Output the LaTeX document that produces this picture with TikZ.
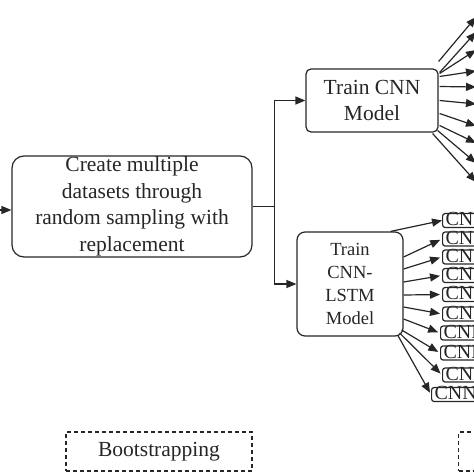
\documentclass[tikz,border=0pt]{standalone}
\usepackage{fontspec}
\setmainfont{Liberation Serif}
\usetikzlibrary{arrows.meta,calc}
\begin{document}
\begin{tikzpicture}[x=1pt,y=-1pt,
  line width=1.2pt, color=black!85,
  arr/.style={-{Triangle[length=10pt,width=8pt]}},
  box/.style={draw, rounded corners=#1, align=center, inner sep=0pt},
  tbox/.style={draw, rounded corners=2.5pt, anchor=west, inner xsep=3pt, inner ysep=0pt,
     minimum height=14pt, text height=10pt, text depth=0pt, font=\fontsize{20}{20}\selectfont},
  dbox/.style={draw, dash pattern=on 4pt off 3pt, line width=1.1pt, inner sep=0pt, font=\fontsize{21.5}{24}\selectfont}
]
\useasboundingbox (0,0) rectangle (474,474);

% main boxes
\node[box=12pt, minimum width=240pt, minimum height=101pt, font=\fontsize{21.5}{26.5}\selectfont]
  (create) at (132,206.5) {Create multiple\\datasets through\\random sampling with\\replacement};
\node[box=5pt, minimum width=132pt, minimum height=63pt, font=\fontsize{21.5}{26}\selectfont]
  (cnn) at (372,100.5) {Train CNN\\Model};
\node[box=8pt, minimum width=106pt, minimum height=104pt, font=\fontsize{18.5}{23}\selectfont]
  (lstm) at (350,284) {Train\\CNN-\\LSTM\\Model};

% input arrow
\coordinate (inp) at (-4,210);
\draw[arr] (inp) -- (inp -| create.west);

% split
\draw (create.east) -- ++(22,0) coordinate (split);
\draw[arr] (split) |- (cnn.west);
\draw[arr] (split) |- (lstm.west);

% CNN fan-out (targets off the picture)
\foreach \i/\dx/\dy/\ey in {1/0/-39/17, 2/1/-28/32, 3/1/-27/50, 4/1/-24/71, 5/1/-14/87,
   6/1/0/104, 7/1/13/126, 8/1/25/143, 9/-1/30/163, 10/-6/33/182}{
  \coordinate (c\i) at (476,\ey);
  \draw[arr] ($(cnn.east)+(\dx,\dy)$) -- (c\i);
}

% CNN-LSTM target boxes
\foreach \i/\x/\y in {1/442/220.5, 2/442/239, 3/442/257, 4/442/275.5, 5/442/294.5,
   6/442/314, 7/440/333, 8/440/353, 9/442/375}{
  \node[tbox] (t\i) at (\x,\y) {CNN};
}
\node[tbox] (t10) at (431,394.5) {CNN};

\foreach \i/\dx/\dy in {2/0/-27, 3/0/-15, 4/0/-2, 5/0/11, 6/0/23, 7/0/35, 8/-2/46, 9/-4/49, 10/-6/51}{
  \draw[arr, shorten >=2pt] ($(lstm.east)+(\dx,\dy)$) -- (t\i.west);
}
\draw[arr] ($(lstm.north east)+(-13,0)$) -- (t1.west);

% bottom dashed labels
\node[dbox, minimum width=186pt, minimum height=39pt] (boot) at (159,451.5) {Bootstrapping};
\node[dbox, minimum width=60pt, minimum height=39pt, anchor=west] (next) at (458,451.5) {};
\end{tikzpicture}
\end{document}
